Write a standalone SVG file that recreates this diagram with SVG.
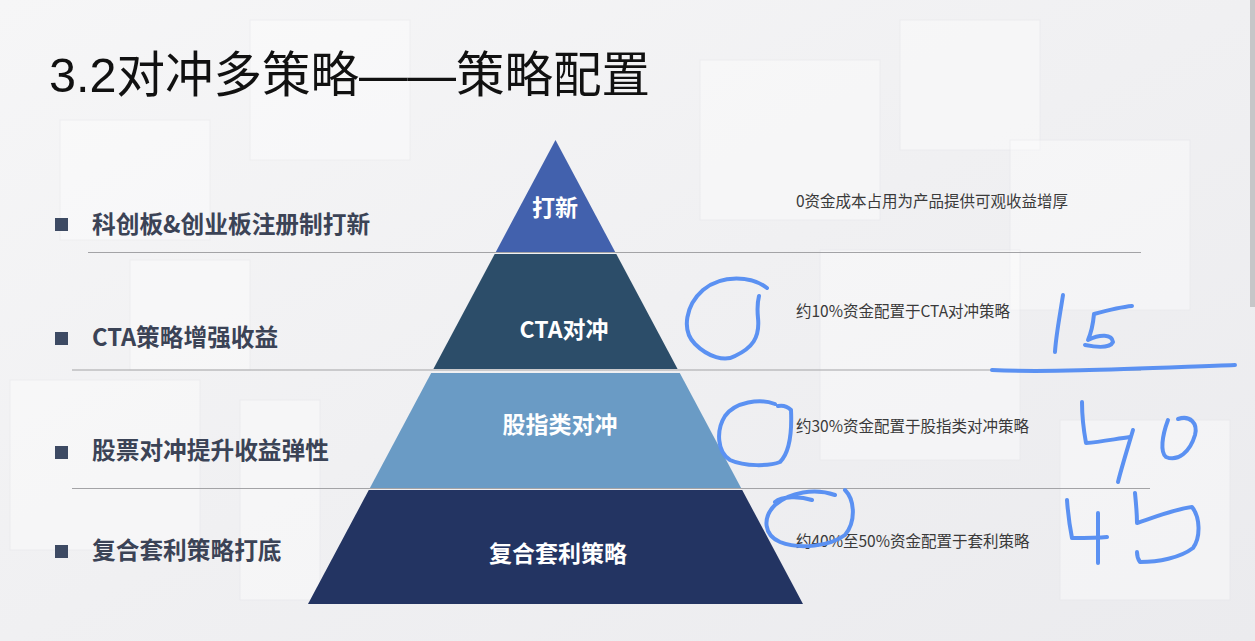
<svg xmlns="http://www.w3.org/2000/svg" width="1255" height="641" viewBox="0 0 1255 641">
<defs>
<linearGradient id="bg" x1="0" y1="0" x2="1" y2="1">
<stop offset="0" stop-color="#f6f6f7"/>
<stop offset="0.5" stop-color="#f0f0f2"/>
<stop offset="1" stop-color="#ebebee"/>
</linearGradient>
<style>
.sq{fill:#ffffff;opacity:0.4;stroke:#e6e6ea;stroke-width:1}
.sep{stroke:#a3a3a6;stroke-width:1.2;fill:none}
.tier-t{font-family:"Noto Sans CJK SC","Liberation Sans",sans-serif;font-weight:700;font-size:23px;fill:#ffffff;text-anchor:middle}
.left-t{font-family:"Noto Sans CJK SC","Liberation Sans",sans-serif;font-weight:700;font-size:23.7px;fill:#3b4356}
.bul{fill:#3d4a63}
.right-t{font-family:"Noto Sans CJK SC","Liberation Sans",sans-serif;font-size:15.5px;fill:#3a3a3a}
.ink{fill:none;stroke:#5b91f2;stroke-width:4;stroke-linecap:round;stroke-linejoin:round}
</style>
</defs>
<rect width="1255" height="641" fill="url(#bg)"/>
<g id="background-squares">
<rect class="sq" x="60" y="120" width="150" height="120"/>
<rect class="sq" x="250" y="20" width="160" height="140"/>
<rect class="sq" x="130" y="260" width="120" height="110"/>
<rect class="sq" x="10" y="380" width="190" height="170"/>
<rect class="sq" x="240" y="400" width="80" height="200"/>
<rect class="sq" x="700" y="60" width="180" height="160"/>
<rect class="sq" x="900" y="20" width="140" height="130"/>
<rect class="sq" x="1010" y="140" width="180" height="170"/>
<rect class="sq" x="820" y="250" width="200" height="210"/>
<rect class="sq" x="1060" y="420" width="170" height="180"/>
</g>
<rect x="1250" y="0" width="5" height="307" fill="#c6c6c8"/>
<g id="title">
<text x="49" y="92" font-family="'Liberation Sans','Noto Sans CJK SC',sans-serif" font-size="48.5" fill="#111111">3.2对冲多策略——策略配置</text>
</g>
<g id="connectors">
<line class="sep" x1="88" y1="252.5" x2="1141" y2="252.5"/>
<line class="sep" x1="72" y1="370" x2="1141" y2="370"/>
<line class="sep" x1="72" y1="488.5" x2="1150" y2="488.5"/>
</g>
<g id="tier-1">
<polygon points="555.5,140 615.2,252 495.8,252" fill="#4261ad"/>
<text class="tier-t" x="555" y="216">打新</text>
</g>
<g id="tier-2">
<polygon points="494.7,254 616.3,254 677.6,369 433.4,369" fill="#2c4d69"/>
<text class="tier-t" x="564" y="338">CTA对冲</text>
</g>
<g id="tier-3">
<polygon points="431.2,373 679.8,373 741.1,488 369.9,488" fill="#6a9bc5"/>
<text class="tier-t" x="560" y="433">股指类对冲</text>
</g>
<g id="tier-4">
<polygon points="368.8,490 742.2,490 803,604 308,604" fill="#233462"/>
<text class="tier-t" x="558" y="562">复合套利策略</text>
</g>
<g id="left-1">
<rect class="bul" x="55" y="218" width="13" height="13"/>
<text class="left-t" x="92" y="233">科创板&amp;创业板注册制打新</text>
</g>
<g id="left-2">
<rect class="bul" x="55" y="332" width="13" height="13"/>
<text class="left-t" x="92" y="346">CTA策略增强收益</text>
</g>
<g id="left-3">
<rect class="bul" x="55" y="446" width="13" height="13"/>
<text class="left-t" x="92" y="459">股票对冲提升收益弹性</text>
</g>
<g id="left-4">
<rect class="bul" x="55" y="545" width="13" height="13"/>
<text class="left-t" x="92" y="559">复合套利策略打底</text>
</g>
<g id="right-1"><text class="right-t" x="796" y="207">0资金成本占用为产品提供可观收益增厚</text></g>
<g id="right-2"><text class="right-t" x="796" y="317">约10%资金配置于CTA对冲策略</text></g>
<g id="right-3"><text class="right-t" x="796" y="432">约30%资金配置于股指类对冲策略</text></g>
<g id="right-4"><text class="right-t" x="796" y="547">约40%至50%资金配置于套利策略</text></g>
<g id="handwriting">
<path class="ink" d="M767 288 C752 276 722 274 703 290 C686 305 681 330 695 344 C708 357 725 362 735 356 C752 348 760 338 758 318 C757 308 758 300 759 296"/>
<path class="ink" d="M775 404 C760 398 735 402 725 416 C716 430 717 452 730 460 C745 467 770 466 780 462 C790 452 792 432 791 410 C787 406 783 405 778 406"/>
<path class="ink" d="M812 500 C800 496 782 496 775 502 M835 495 C815 488 790 492 775 505 C762 518 764 535 780 542 C800 550 830 546 845 535 C856 522 855 500 845 490"/>
<path class="ink" d="M1063 295 C1060 315 1056 335 1055 352"/>
<path class="ink" d="M1132 306 C1120 307 1105 311 1094 314 C1093 325 1091 333 1088 340 C1100 334 1112 334 1113 342 C1110 348 1100 348 1085 345"/>
<path class="ink" d="M992 370 C1050 373 1150 368 1235 365"/>
<path class="ink" d="M1082 402 C1082 418 1084 432 1086 443 C1100 442 1115 439 1130 437"/>
<path class="ink" d="M1133 430 C1128 447 1122 466 1118 482"/>
<path class="ink" d="M1168 420 C1162 436 1160 452 1166 457 C1178 462 1190 452 1195 435 C1198 423 1190 415 1178 419"/>
<path class="ink" d="M1067 500 C1068 514 1070 528 1072 538 C1085 538 1097 538 1107 537"/>
<path class="ink" d="M1098 513 C1098 530 1098 548 1098 563"/>
<path class="ink" d="M1135 493 C1136 503 1137 513 1137 523 C1155 517 1175 509 1192 507 C1200 517 1201 537 1193 548 C1180 558 1158 562 1140 562 C1137 558 1137 555 1137 552"/>
</g>
</svg>
